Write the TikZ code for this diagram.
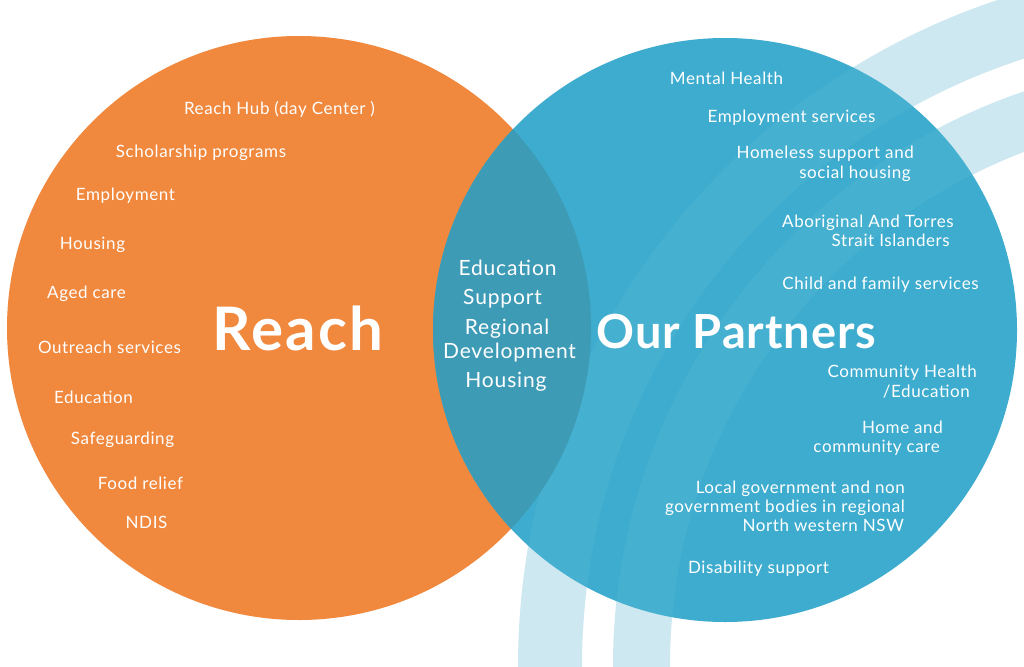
\documentclass[tikz,border=0pt]{standalone}
\usepackage{fontspec}
\setmainfont{Lato}
\newfontfamily\itemfont{Lato}[LetterSpace=3.5]
\newfontfamily\midfont{Lato}[LetterSpace=4]
\newfontfamily\reachfont{Lato}[LetterSpace=4]
\newfontfamily\partfont{Lato}[LetterSpace=2]
\definecolor{reachorange}{RGB}{240,136,61}
\definecolor{partnerblue}{RGB}{61,172,206}
\definecolor{overlapteal}{RGB}{62,155,182}
\definecolor{bandblue}{RGB}{205,232,241}
\tikzset{
  item/.style={text=white, inner sep=0pt, font=\itemfont\fontsize{17}{19.5}\selectfont},
  mid/.style={text=white, inner sep=0pt, font=\midfont\fontsize{21}{24}\selectfont},
  big/.style={text=white, inner sep=0pt, font=\reachfont\fontsize{60}{66}\selectfont\bfseries},
  bigp/.style={text=white, inner sep=0pt, font=\partfont\fontsize{47}{52}\selectfont\bfseries},
}
\begin{document}
\begin{tikzpicture}[x=1pt,y=-1pt]
\useasboundingbox (0,0) rectangle (1024,666);
\clip (0,0) rectangle (1024,666);
\fill[white] (0,0) rectangle (1024,666);
% background bands
\fill[bandblue, even odd rule] (1220,666) circle[radius=607pt] (1220,666) circle[radius=550pt];
\fill[bandblue, even odd rule] (1220,666) circle[radius=702pt] (1220,666) circle[radius=638pt];
% circles
\fill[reachorange] (299,328) circle[radius=292pt];
\fill[partnerblue] (725,330) circle[radius=292pt];
\begin{scope}
  \clip (725,330) circle[radius=292pt];
  \fill[white, opacity=0.05, even odd rule] (1220,666) circle[radius=607pt] (1220,666) circle[radius=550pt];
  \fill[white, opacity=0.05, even odd rule] (1220,666) circle[radius=702pt] (1220,666) circle[radius=638pt];
\end{scope}
\begin{scope}
  \clip (299,328) circle[radius=292pt];
  \fill[overlapteal] (725,330) circle[radius=292pt];
\end{scope}
% Reach items
\node[item, anchor=base] (r1) at (279.5,114) {Reach Hub (day Center )};
\node[item, anchor=base] (r2) at (201,157) {Scholarship programs};
\node[item, anchor=base] (r3) at (125.5,200) {Employment};
\node[item, anchor=base] (r4) at (92.5,249) {Housing};
\node[item, anchor=base] (r5) at (86.5,298) {Aged care};
\node[item, anchor=base] (r6) at (109.5,353) {Outreach services};
\node[item, anchor=base] (r7) at (93.5,403) {Education};
\node[item, anchor=base] (r8) at (122.5,444) {Safeguarding};
\node[item, anchor=base] (r9) at (140.5,489) {Food relief};
\node[item, anchor=base] (r10) at (146.5,528) {NDIS};
\node[big, anchor=base] (reach) at (298,350) {Reach};
% shared items
\node[mid, anchor=base] (m1) at (507.5,275) {Education};
\node[mid, anchor=base] (m2) at (502.5,304) {Support};
\node[mid, anchor=base] (m3) at (507,334) {Regional};
\node[mid, anchor=base] (m4) at (509.5,358) {Development};
\node[mid, anchor=base] (m5) at (506,387) {Housing};
% partner items
\node[bigp, anchor=base] (partners) at (736.5,348) {Our Partners};
\node[item, anchor=base] (p1) at (726.5,85) {Mental Health};
\node[item, anchor=base] (p2) at (791.5,122) {Employment services};
\node[item, anchor=base east] (p3a) at (914,158) {Homeless support and};
\node[item, anchor=base east] (p3b) at (911,178) {social housing};
\node[item, anchor=base east] (p4a) at (954,227) {Aboriginal And Torres};
\node[item, anchor=base east] (p4b) at (950,246) {Strait Islanders};
\node[item, anchor=base] (p5) at (880.5,289) {Child and family services};
\node[item, anchor=base east] (p6a) at (977,377) {Community Health};
\node[item, anchor=base east] (p6b) at (970,397) {/Education};
\node[item, anchor=base east] (p7a) at (943,433) {Home and};
\node[item, anchor=base east] (p7b) at (940,452) {community care};
\node[item, anchor=base east] (p8a) at (905,493) {Local government and non};
\node[item, anchor=base east] (p8b) at (905,512) {government bodies in regional};
\node[item, anchor=base east] (p8c) at (904,531) {North western NSW};
\node[item, anchor=base] (p9) at (758.5,573) {Disability support};
\end{tikzpicture}
\end{document}
